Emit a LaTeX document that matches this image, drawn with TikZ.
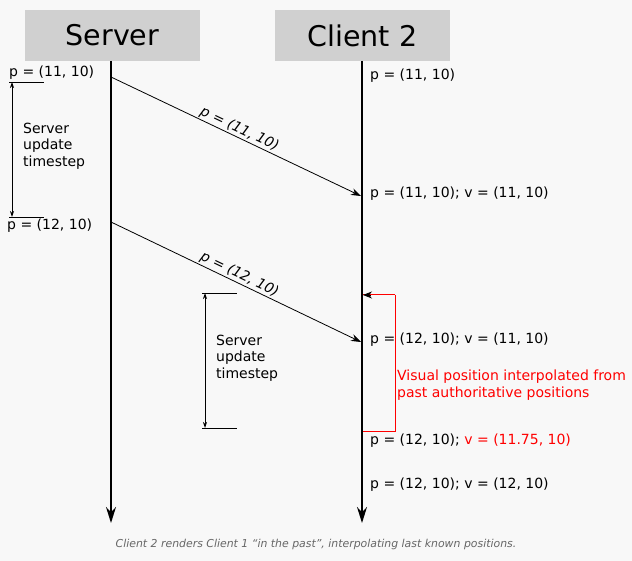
\documentclass[tikz,border=0pt]{standalone}
\usepackage{fontspec}
\setmainfont{DejaVu Sans}
\usetikzlibrary{arrows.meta}
\definecolor{bg}{HTML}{F8F8F8}
\definecolor{hdr}{HTML}{D0D0D0}
\definecolor{myred}{HTML}{FF0000}
\begin{document}
\begin{tikzpicture}[x=1pt,y=-1pt,
  hdrbox/.style={fill=hdr,draw=none,minimum width=175pt,minimum height=51pt,font=\fontsize{28.5}{32}\selectfont},
  lbl/.style={anchor=west,inner sep=0pt,font=\fontsize{14}{16.5}\selectfont},
  life/.style={line width=1.5pt,-{Stealth[length=16pt,width=10pt]}},
  msg/.style={line width=0.8pt,-{Stealth[length=10pt,width=7pt]}},
  tick/.style={line width=0.8pt},
  dbl/.style={line width=0.8pt,{Stealth[length=6pt,width=4pt]}-{Stealth[length=6pt,width=4pt]}}]
\fill[bg] (0,0) rectangle (632,561);
\useasboundingbox (0,0) rectangle (632,561);
\node[hdrbox] (srv) at (112.5,35.5) {Server};
\node[hdrbox] (cli) at (362.5,35.5) {Client 2};
\coordinate (sTop) at (111,61); \coordinate (sBot) at (111,523);
\coordinate (cTop) at (362,61); \coordinate (cBot) at (362,523);
\draw[life] (sTop) -- (sBot);
\draw[life] (cTop) -- (cBot);
% server labels
\node[lbl] (s1) at (9,73) {p = (11, 10)};
\node[lbl] (s2) at (7,226) {p = (12, 10)};
% messages
\coordinate (m1a) at (111,77); \coordinate (m1b) at (361,196);
\coordinate (m2a) at (111,222); \coordinate (m2b) at (361,342);
\draw[msg] (m1a) -- node[sloped,above,pos=0.5,inner sep=1pt,font=\itshape\fontsize{14}{16.5}\selectfont]{p = (11, 10)} (m1b);
\draw[msg] (m2a) -- node[sloped,above,pos=0.5,inner sep=1pt,font=\itshape\fontsize{14}{16.5}\selectfont]{p = (12, 10)} (m2b);
% left bracket
\coordinate (b1a) at (9,82); \coordinate (b1b) at (44,82);
\coordinate (b1c) at (9,217); \coordinate (b1d) at (44,217);
\draw[tick] (b1a) -- (b1b); \draw[tick] (b1c) -- (b1d);
\coordinate (d1a) at (12,82); \coordinate (d1b) at (12,217);
\draw[dbl] (d1a) -- (d1b);
\node[lbl,align=left] (t1) at (23,146) {Server\\update\\timestep};
% second bracket
\coordinate (b2a) at (202,293); \coordinate (b2b) at (237,293);
\coordinate (b2c) at (202,428); \coordinate (b2d) at (237,428);
\draw[tick] (b2a) -- (b2b); \draw[tick] (b2c) -- (b2d);
\coordinate (d2a) at (205,293); \coordinate (d2b) at (205,428);
\draw[dbl] (d2a) -- (d2b);
\node[lbl,align=left] (t2) at (216,358) {Server\\update\\timestep};
% client labels
\node[lbl] (c1) at (370,76) {p = (11, 10)};
\node[lbl] (c2) at (370,194) {p = (11, 10); v = (11, 10)};
\node[lbl] (c3) at (370,340) {p = (12, 10); v = (11, 10)};
\node[lbl] (c4) at (370,441) {p = (12, 10); \textcolor{myred}{v = (11.75, 10)}};
\node[lbl] (c5) at (370,485) {p = (12, 10); v = (12, 10)};
% red bracket
\coordinate (r1) at (395,295); \coordinate (r2) at (395,431);
\coordinate (r0) at (363,295); \coordinate (r3) at (363,431);
\draw[myred,line width=1pt] (r1) -- (r2) -- (r3);
\draw[myred,line width=1pt] (r1) -- (r0);
\draw[line width=0.8pt,{Stealth[length=9pt,width=7pt]}-] (r0) -- ++(8,0);
\node[lbl,align=left,text=myred] (rt) at (397,385) {Visual position interpolated from\\past authoritative positions};
\node[font=\itshape\fontsize{10.9}{13}\selectfont,text=black!60] (cap) at (316,544) {Client 2 renders Client 1 “in the past”, interpolating last known positions.};
\end{tikzpicture}
\end{document}
